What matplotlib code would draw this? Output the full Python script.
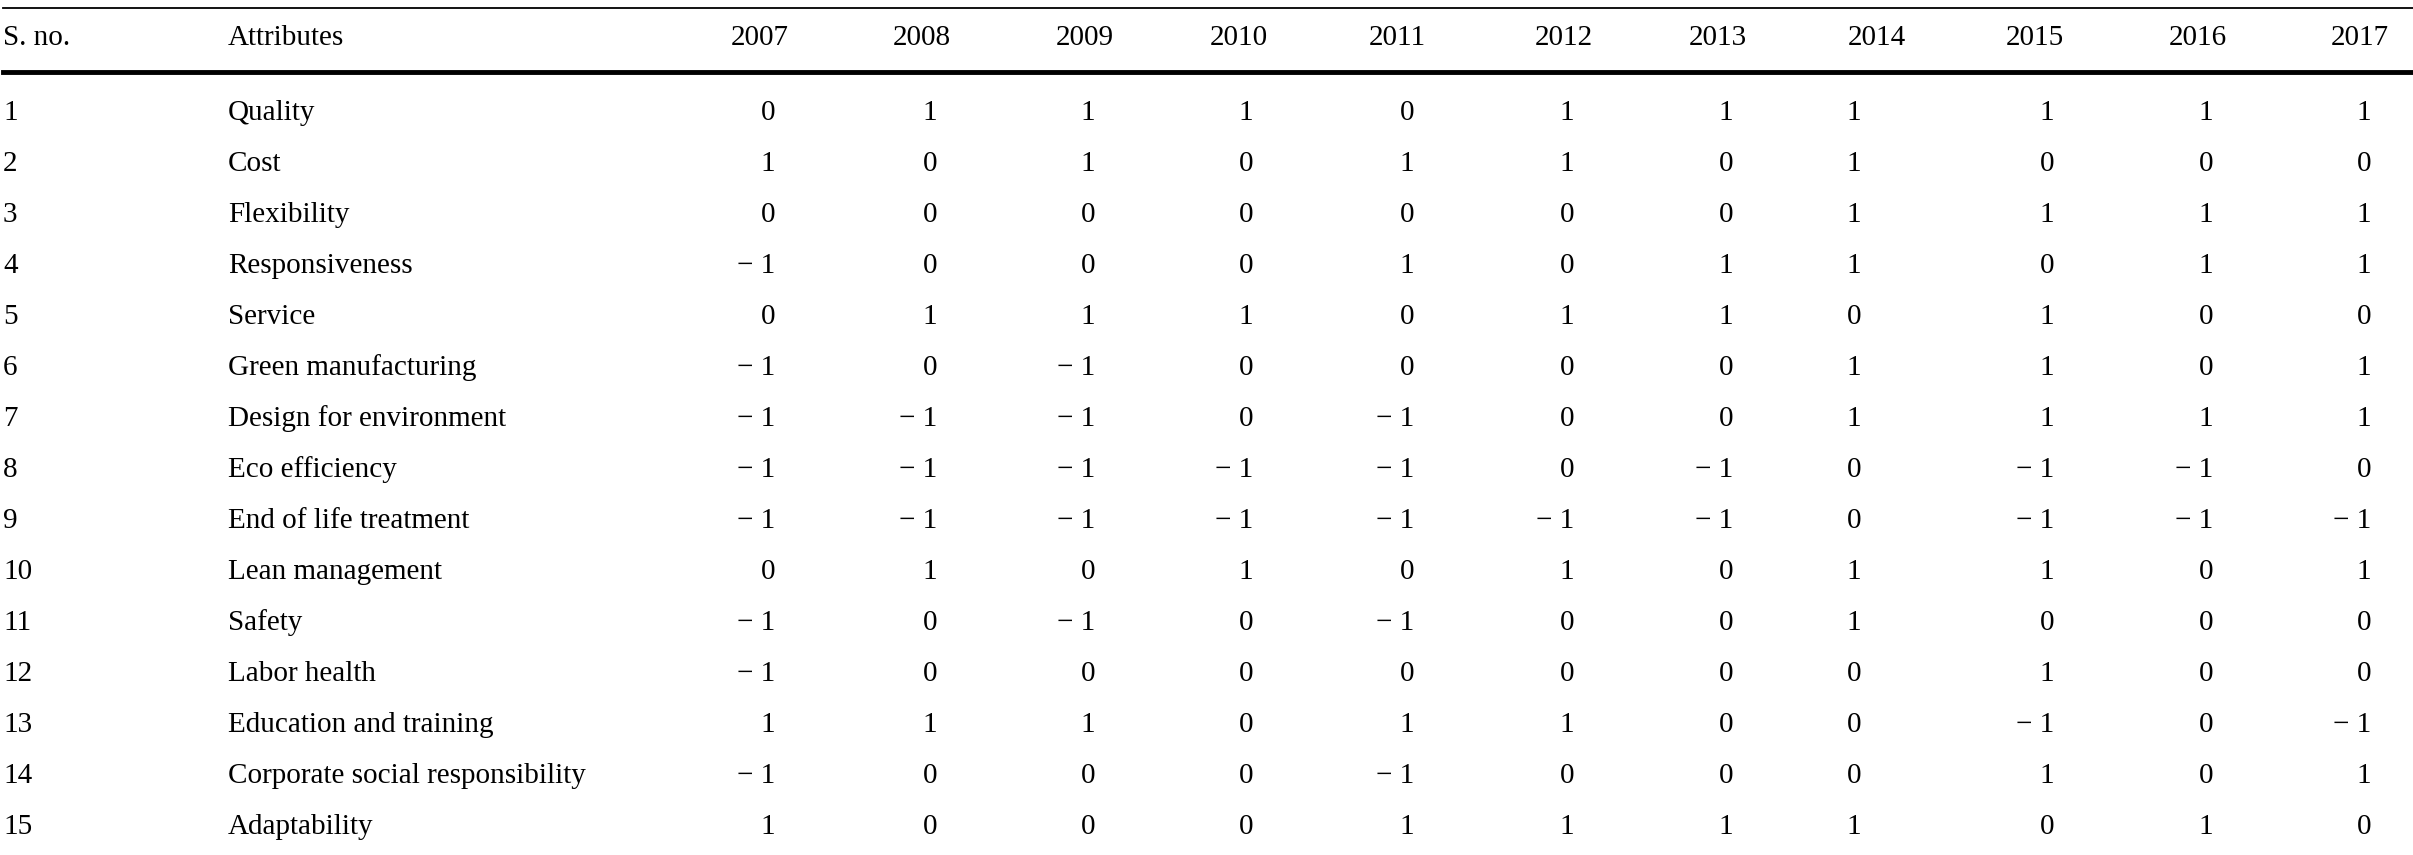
import matplotlib
matplotlib.use("Agg")
import matplotlib.pyplot as plt

plt.rcParams['font.family'] = ['Liberation Serif', 'DejaVu Serif']

years = ["2007","2008","2009","2010","2011","2012","2013","2014","2015","2016","2017"]
attributes = ["Quality","Cost","Flexibility","Responsiveness","Service","Green manufacturing",
              "Design for environment","Eco efficiency","End of life treatment","Lean management",
              "Safety","Labor health","Education and training","Corporate social responsibility",
              "Adaptability"]
values = [
    [0,1,1,1,0,1,1,1,1,1,1],
    [1,0,1,0,1,1,0,1,0,0,0],
    [0,0,0,0,0,0,0,1,1,1,1],
    [-1,0,0,0,1,0,1,1,0,1,1],
    [0,1,1,1,0,1,1,0,1,0,0],
    [-1,0,-1,0,0,0,0,1,1,0,1],
    [-1,-1,-1,0,-1,0,0,1,1,1,1],
    [-1,-1,-1,-1,-1,0,-1,0,-1,-1,0],
    [-1,-1,-1,-1,-1,-1,-1,0,-1,-1,-1],
    [0,1,0,1,0,1,0,1,1,0,1],
    [-1,0,-1,0,-1,0,0,1,0,0,0],
    [-1,0,0,0,0,0,0,0,1,0,0],
    [1,1,1,0,1,1,0,0,-1,0,-1],
    [-1,0,0,0,-1,0,0,0,1,0,1],
    [1,0,0,0,1,1,1,1,0,1,0],
]

W, H = 2413, 855
fig = plt.figure(figsize=(W/100, H/100), dpi=100)
ax = fig.add_axes([0, 0, 1, 1])
ax.set_xlim(0, W); ax.set_ylim(H, 0); ax.axis('off')

fs = 21
hdr_x = [760, 922, 1085, 1239, 1397, 1564, 1718, 1877, 2035, 2198, 2360]
val_x = [768, 930, 1088, 1246, 1407, 1567, 1726, 1854, 2047, 2206, 2364]

ax.plot([3, W], [8, 8], color='black', lw=1.3)
ax.plot([3, W], [72, 72], color='black', lw=3.5)
hy = 38
ax.text(3, hy, "S. no.", fontsize=fs, va='center', ha='left')
ax.text(228, hy, "Attributes", fontsize=fs, va='center', ha='left')
for x, y in zip(hdr_x, years):
    ax.text(x, hy, y, fontsize=fs, va='center', ha='center')

for i, (a, row) in enumerate(zip(attributes, values)):
    y = 113 + i * 51
    ax.text(3, y, str(i + 1), fontsize=fs, va='center', ha='left')
    ax.text(228, y, a, fontsize=fs, va='center', ha='left')
    for x, v in zip(val_x, row):
        s = "\u2212 1" if v == -1 else str(v)
        ax.text(x + 7, y, s, fontsize=fs, va='center', ha='right')

fig.savefig("out.png", dpi=100)
